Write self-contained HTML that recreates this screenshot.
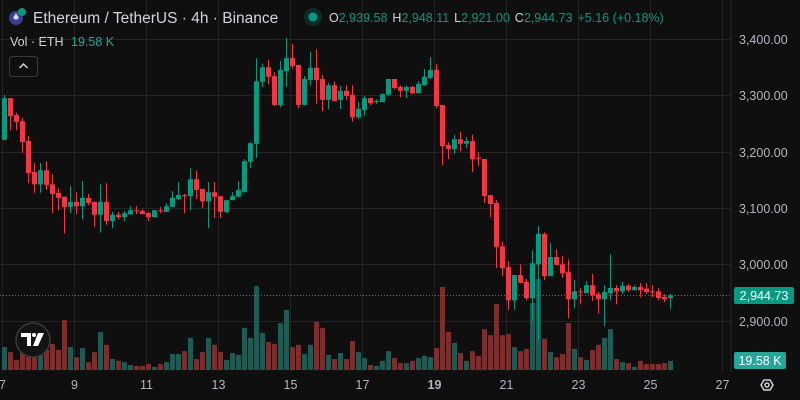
<!DOCTYPE html>
<html><head><meta charset="utf-8">
<style>
html,body{margin:0;padding:0;background:#0f0f0f;}
body{width:800px;height:400px;overflow:hidden;position:relative;font-family:"Liberation Sans",sans-serif;}
svg{position:absolute;left:0;top:0;}
</style></head>
<body>
<svg id="chart" width="800" height="400">
  <rect x="0" y="0" width="800" height="400" fill="#0f0f0f"/>
  <g id="grid"></g>
  <g id="vol"></g>
  <g id="candles"></g>
  <g id="axis"></g>
  <g id="taxis"></g>
  <line x1="731" y1="0" x2="731" y2="372" stroke="#2a2a2a" stroke-width="1"/>
  <g>
    <circle cx="16" cy="18" r="7" fill="#3c3f8f"/>
    <path d="M16 13 L19 18 L16 20 L13 18 Z" fill="#d9dcf5"/>
    <circle cx="22" cy="12" r="4" fill="#089981"/>
  </g>
  <text x="33" y="23" fill="#d1d4dc" font-size="15.5">Ethereum / TetherUS · 4h · Binance</text>
  <circle cx="313" cy="17" r="9" fill="#0d2b27"/>
  <circle cx="313" cy="17" r="4.5" fill="#089981"/>
  <text y="22" font-size="12.5"><tspan x="329" fill="#d1d4dc">O</tspan><tspan fill="#089981">2,939.58</tspan><tspan fill="#d1d4dc" dx="5">H</tspan><tspan fill="#089981">2,948.11</tspan><tspan fill="#d1d4dc" dx="5">L</tspan><tspan fill="#089981">2,921.00</tspan><tspan fill="#d1d4dc" dx="5">C</tspan><tspan fill="#089981">2,944.73</tspan><tspan fill="#089981" dx="5">+5.16 (+0.18%)</tspan></text>
  <text x="10" y="46" font-size="12.5" fill="#d1d4dc">Vol · ETH</text>
  <text x="71" y="46" font-size="12.5" fill="#26a69a">19.58 K</text>
  <g>
    <rect x="9.5" y="56.5" width="28" height="20" rx="3" fill="#0f0f0f" stroke="#3a3a3a"/>
    <path d="M19.5 68 L23.5 64 L27.5 68" fill="none" stroke="#d1d4dc" stroke-width="1.5"/>
  </g>
  <g>
    <circle cx="33" cy="340" r="17" fill="#131313" stroke="#3a3a3a" stroke-width="1.5"/>
    <path d="M21 333 H31 V346 H27 V337 H21 Z" fill="#fff"/>
    <circle cx="34" cy="335" r="2" fill="#fff"/>
    <path d="M38 333 H44 L38 346 H33 Z" fill="#fff"/>
  </g>
  <g>
    <path d="M761 385 L764 380 L770 380 L773 385 L770 390 L764 390 Z" fill="none" stroke="#d1d4dc" stroke-width="1.5"/>
    <circle cx="767" cy="385" r="2" fill="none" stroke="#d1d4dc" stroke-width="1.5"/>
  </g>
</svg>
<script>
const open_ = [3221,3295,3265,3254,3219,3164,3142,3167,3142,3127,
3120,3102,3111,3103,3118,3111,3088,3111,3077,3088,
3084,3089,3096,3095,3091,3084,3096,3093,3102,3116,
3123,3121,3151,3134,3112,3128,3121,3093,3114,3120,
3128,3182,3214,3324,3350,3334,3283,3343,3366,3354,
3283,3327,3349,3329,3292,3318,3292,3308,3301,3261,
3274,3295,3288,3288,3301,3329,3315,3308,3315,3304,
3318,3331,3345,3283,3212,3205,3222,3214,3219,3189,
3187,3123,3109,3032,2995,2936,2981,2969,2940,3000,
3054,2979,3013,3000,2986,2938,2952,2949,2963,2947,
2938,2949,2958,2952,2962,2954,2960,2957,2952,2952,
2942,2940];
const close_ = [3295,3263,3253,3217,3162,3142,3167,3141,3125,3118,
3102,3111,3103,3118,3109,3088,3111,3077,3088,3084,
3091,3096,3095,3089,3084,3096,3095,3103,3118,3123,
3121,3151,3132,3112,3128,3120,3093,3114,3121,3132,
3183,3215,3325,3350,3333,3283,3345,3366,3352,3283,
3329,3349,3327,3292,3318,3290,3308,3299,3261,3276,
3295,3286,3290,3302,3329,3313,3308,3315,3304,3320,
3333,3345,3281,3210,3205,3222,3214,3219,3187,3188,
3121,3107,3031,2993,2936,2981,2967,2940,3002,3054,
2979,3013,2999,2984,2938,2952,2951,2963,2945,2938,
2951,2958,2952,2962,2954,2960,2954,2951,2951,2940,
2938,2945];
const high_ = [3301,3295,3269,3260,3228,3180,3180,3183,3160,3135,
3120,3139,3128,3148,3125,3111,3142,3144,3093,3093,
3095,3103,3103,3098,3093,3096,3102,3109,3130,3146,
3125,3171,3166,3134,3146,3146,3121,3114,3128,3148,
3187,3217,3366,3356,3363,3341,3361,3402,3391,3354,
3334,3377,3382,3336,3322,3325,3317,3318,3318,3288,
3299,3295,3293,3304,3329,3329,3318,3318,3317,3325,
3347,3368,3356,3283,3217,3230,3235,3226,3230,3199,
3187,3123,3114,3041,3006,2981,3000,2974,3025,3068,
3057,3038,3027,3015,3009,2972,2958,2970,2983,2951,
2963,3018,2963,2969,2965,2963,2967,2967,2963,2958,
2947,2948];
const low_ = [3221,3238,3238,3198,3144,3127,3127,3132,3091,3096,
3055,3091,3089,3080,3105,3066,3057,3070,3064,3080,
3077,3088,3089,3089,3077,3084,3091,3093,3102,3114,
3091,3096,3116,3100,3064,3082,3082,3091,3114,3120,
3128,3171,3189,3315,3320,3281,3279,3315,3347,3277,
3283,3318,3285,3272,3276,3290,3276,3292,3253,3258,
3263,3283,3285,3288,3299,3311,3297,3295,3302,3304,
3317,3329,3277,3176,3187,3196,3201,3206,3164,3174,
3109,3084,2993,2979,2919,2920,2967,2936,2900,2865,
2972,2979,2999,2976,2904,2922,2929,2949,2935,2913,
2890,2936,2929,2947,2951,2954,2942,2947,2942,2936,
2933,2921];
const volume_ = [50,39,22,39,33,33,50,44,57,44,109,50,28,48,17,39,83,55,24,20,17,11,9,9,13,7,13,17,35,35,41,70,24,39,70,55,39,22,37,33,92,70,183,81,61,57,102,131,50,55,35,55,105,92,33,24,37,24,63,39,26,11,9,20,41,26,15,15,20,26,31,28,48,181,83,59,37,20,41,31,89,76,144,76,78,50,41,46,146,198,68,39,28,35,102,46,28,22,44,55,70,89,24,17,15,7,20,13,13,13,15,20];
const priceTicks = [3400,3300,3200,3100,3000,2900];
const priceTickLabels = ["3,400.00","3,300.00","3,200.00","3,100.00","3,000.00","2,900.00"];
const dayTickIndex = [-1,11,23,35,47,59,71,83,95,107,119];
const dayTickLabels = ["7","9","11","13","15","17","19","21","23","25","27"];
const lastPrice = 2944.73;
const lastPriceLabel = "2,944.73";
const lastVolumeLabel = "19.58 K";

const NS = "http://www.w3.org/2000/svg";
const UP = "#089981", DN = "#f23645", VUP = "#1d5b54", VDN = "#7c2e2f";
function yP(p){ return 39 + (3400 - p) * 0.5633; }
function xI(i){ return 4 + 6 * i + 0.5; }
function yV(v){ return 370 - v / 2.18; }
function mk(tag, attrs, parent){
  const el = document.createElementNS(NS, tag);
  for (const k in attrs) el.setAttribute(k, attrs[k]);
  parent.appendChild(el);
  return el;
}
const grid = document.getElementById('grid');
const axis = document.getElementById('axis');
const taxis = document.getElementById('taxis');
const candles = document.getElementById('candles');
const vol = document.getElementById('vol');

priceTicks.forEach((p, k) => {
  const y = Math.round(yP(p)) + 0.5;
  const l = mk('line', {x1:0, x2:731, y1:y, y2:y, stroke:'#242424', 'stroke-width':1}, grid);
  
  
  const t = mk('text', {x:739, y:y+4.5, fill:'#b2b5be', 'font-size':12.5}, axis);
  t.textContent = priceTickLabels[k];
  
  
});
dayTickIndex.forEach((i, k) => {
  const x = Math.round(xI(i + 0.5)) + 0.5;
  if (x < 731) {
    const l = mk('line', {x1:x, x2:x, y1:0, y2:372, stroke:'#242424', 'stroke-width':1}, grid);
    
    
  }
  const t = mk('text', {x:x, y:389, fill:'#b2b5be', 'font-size':12.5, 'text-anchor':'middle', 'font-weight': dayTickLabels[k] === '19' ? 'bold' : 'normal'}, taxis);
  t.textContent = dayTickLabels[k];
  
  
});

for (let i = 0; i < open_.length; i++) {
  const up = close_[i] >= open_[i];
  const x = xI(i);
  const vb = mk('rect', {x:x-2.5, y:yV(volume_[i]), width:5, height:370 - yV(volume_[i]), fill: up ? VUP : VDN}, vol);
  
  
  const c = up ? UP : DN;
  const w = mk('line', {x1:x, x2:x, y1:yP(high_[i]), y2:yP(low_[i]), stroke:c, 'stroke-width':1}, candles);
  
  
  const top = yP(Math.max(open_[i], close_[i]));
  const h = Math.max(1, yP(Math.min(open_[i], close_[i])) - top);
  const b = mk('rect', {x:x-2.5, y:top, width:5, height:h, fill:c}, candles);
  
  
}

const ly = Math.round(yP(lastPrice)) + 0.5;
const pl = mk('line', {x1:0, x2:731, y1:ly, y2:ly, stroke:UP, 'stroke-width':1, 'stroke-dasharray':'1 2'}, axis);


const pb = mk('rect', {x:734, y:ly-8.5, width:60, height:17, rx:2, fill:UP}, axis);


const pt = mk('text', {x:764, y:ly+4.5, fill:'#ffffff', 'font-size':12.5, 'text-anchor':'middle'}, axis);
pt.textContent = lastPriceLabel;


const vbg = mk('rect', {x:734, y:352, width:52, height:17, rx:2, fill:'#26a69a'}, axis);


const vt = mk('text', {x:760, y:365, fill:'#ffffff', 'font-size':12.5, 'text-anchor':'middle'}, axis);
vt.textContent = lastVolumeLabel;


</script>
</body></html>
